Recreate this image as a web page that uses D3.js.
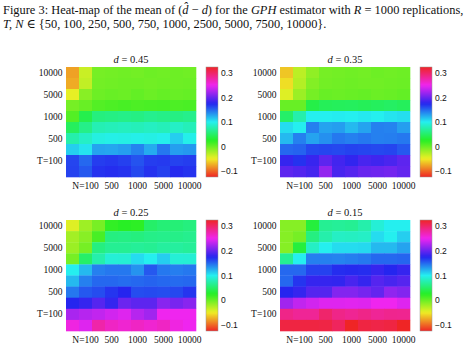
<!DOCTYPE html>
<html>
<head>
<meta charset="utf-8">
<script src="https://cdn.jsdelivr.net/npm/d3@7"></script>
<style>
  body { margin: 0; background: #fff; }
  .tick text { fill: #111; }
</style>
</head>
<body>
<div id="wrapper"></div>
<script>
// rows run top to bottom (T), columns left to right (N)
const Ts = [10000, 7500, 5000, 2500, 1000, 750, 500, 250, 100, 50]
const Ns = [50, 100, 250, 500, 750, 1000, 2500, 5000, 7500, 10000]
const xTickVals = [100, 500, 1000, 5000, 10000]
const xTickLabels = ["N=100", "500", "1000", "5000", "10000"]
const yTickVals = [10000, 5000, 1000, 500, 100]
const yTickLabels = ["10000", "5000", "1000", "500", "T=100"]
const cbTicks = [-0.1, 0, 0.1, 0.2, 0.3]
const dLabels = ["0.45", "0.35", "0.25", "0.15"]

// mean of (d_hat - d)
const bias045 = [
  [-0.079, -0.036, -0.005, -0.004, -0.003, -0.004, -0.002, -0.003, -0.002, -0.003],
  [-0.075, -0.033, -0.004, -0.003, -0.002, -0.002, -0.003, -0.002, -0.002, -0.001],
  [-0.047, -0.012, -0.002, 0.000, -0.001, 0.002, -0.001, 0.001, 0.000, 0.001],
  [-0.005, 0.000, 0.008, 0.010, 0.012, 0.010, 0.011, 0.012, 0.010, 0.011],
  [0.008, 0.040, 0.058, 0.060, 0.062, 0.060, 0.064, 0.062, 0.060, 0.063],
  [0.046, 0.062, 0.078, 0.080, 0.082, 0.080, 0.083, 0.080, 0.085, 0.080],
  [0.075, 0.085, 0.095, 0.097, 0.096, 0.098, 0.096, 0.099, 0.112, 0.098],
  [0.112, 0.104, 0.128, 0.127, 0.130, 0.140, 0.125, 0.144, 0.130, 0.132],
  [0.163, 0.150, 0.166, 0.168, 0.165, 0.158, 0.166, 0.167, 0.164, 0.166],
  [0.164, 0.156, 0.170, 0.172, 0.170, 0.162, 0.170, 0.165, 0.173, 0.170]
]
const bias035 = [
  [-0.065, -0.031, -0.015, -0.005, -0.004, -0.003, -0.004, -0.002, -0.003, -0.002],
  [-0.056, -0.028, -0.010, -0.004, -0.003, -0.002, -0.003, -0.003, -0.002, -0.001],
  [-0.044, -0.019, -0.005, 0.000, -0.001, 0.000, 0.001, -0.001, 0.000, 0.002],
  [0.000, 0.000, 0.038, 0.044, 0.045, 0.046, 0.044, 0.046, 0.048, 0.045],
  [0.050, 0.075, 0.100, 0.100, 0.101, 0.100, 0.102, 0.100, 0.104, 0.106],
  [0.107, 0.100, 0.141, 0.128, 0.130, 0.120, 0.128, 0.141, 0.140, 0.130],
  [0.120, 0.141, 0.128, 0.135, 0.144, 0.141, 0.144, 0.141, 0.142, 0.144],
  [0.150, 0.152, 0.162, 0.163, 0.162, 0.164, 0.163, 0.162, 0.163, 0.156],
  [0.181, 0.170, 0.182, 0.196, 0.186, 0.180, 0.188, 0.185, 0.189, 0.196],
  [0.196, 0.192, 0.187, 0.216, 0.188, 0.193, 0.200, 0.202, 0.204, 0.198]
]
const bias025 = [
  [-0.044, -0.020, -0.006, 0.020, 0.024, 0.022, 0.050, 0.055, 0.055, 0.058],
  [-0.022, -0.012, 0.012, 0.059, 0.060, 0.058, 0.062, 0.063, 0.062, 0.064],
  [-0.019, -0.005, 0.059, 0.066, 0.066, 0.068, 0.066, 0.070, 0.070, 0.068],
  [-0.005, 0.050, 0.075, 0.091, 0.090, 0.107, 0.100, 0.112, 0.091, 0.090],
  [0.100, 0.120, 0.141, 0.144, 0.144, 0.134, 0.156, 0.144, 0.142, 0.144],
  [0.120, 0.141, 0.150, 0.150, 0.148, 0.150, 0.152, 0.150, 0.149, 0.150],
  [0.144, 0.156, 0.160, 0.169, 0.175, 0.160, 0.161, 0.160, 0.162, 0.169],
  [0.175, 0.181, 0.193, 0.181, 0.201, 0.196, 0.196, 0.212, 0.206, 0.212],
  [0.224, 0.229, 0.233, 0.239, 0.244, 0.229, 0.221, 0.250, 0.250, 0.250],
  [0.255, 0.244, 0.276, 0.266, 0.261, 0.266, 0.261, 0.266, 0.255, 0.250]
]
const bias015 = [
  [-0.011, -0.011, 0.034, 0.066, 0.068, 0.066, 0.075, 0.091, 0.100, 0.100],
  [-0.011, -0.005, 0.059, 0.075, 0.084, 0.083, 0.085, 0.107, 0.100, 0.112],
  [-0.011, 0.034, 0.084, 0.100, 0.107, 0.107, 0.108, 0.120, 0.120, 0.128],
  [0.066, 0.100, 0.141, 0.141, 0.140, 0.142, 0.144, 0.150, 0.150, 0.151],
  [0.150, 0.150, 0.164, 0.164, 0.172, 0.173, 0.172, 0.181, 0.175, 0.181],
  [0.150, 0.169, 0.181, 0.181, 0.180, 0.188, 0.181, 0.193, 0.188, 0.193],
  [0.175, 0.181, 0.193, 0.193, 0.210, 0.210, 0.205, 0.198, 0.215, 0.210],
  [0.221, 0.233, 0.239, 0.244, 0.244, 0.245, 0.244, 0.250, 0.250, 0.244],
  [0.288, 0.283, 0.283, 0.299, 0.288, 0.284, 0.288, 0.283, 0.286, 0.285],
  [0.314, 0.314, 0.314, 0.313, 0.304, 0.325, 0.314, 0.312, 0.314, 0.325]
]
const panelsData = [bias045, bias035, bias025, bias015]

const width = 474
const height = 352

const svg = d3.select("#wrapper")
  .append("svg")
  .attr("width", width)
  .attr("height", height)
  .style("display", "block")

svg.append("rect").attr("width", width).attr("height", height).attr("fill", "#fff")

// caption
const serif = "'Liberation Serif', 'DejaVu Serif', serif"
const cap1 = svg.append("text")
  .attr("x", 3).attr("y", 14)
  .style("font-family", serif).style("font-size", "12px").attr("fill", "#111")
cap1.append("tspan").text("Figure 3:  Heat-map of the mean of (")
cap1.append("tspan").style("font-style", "italic").text("d\u0302")
cap1.append("tspan").text(" \u2212 ")
cap1.append("tspan").style("font-style", "italic").text("d")
cap1.append("tspan").text(") for the ")
cap1.append("tspan").style("font-style", "italic").text("GPH")
cap1.append("tspan").text(" estimator with ")
cap1.append("tspan").style("font-style", "italic").text("R")
cap1.append("tspan").text(" = 1000 replications,")

const cap2 = svg.append("text")
  .attr("x", 3).attr("y", 28)
  .style("font-family", serif).style("font-size", "12px").attr("fill", "#111")
cap2.append("tspan").style("font-style", "italic").text("T, N")
cap2.append("tspan").text(" \u2208 {50, 100, 250, 500, 750, 1000, 2500, 5000, 7500, 10000}.")

// fit the caption to the width it takes in the figure
const capLen = cap1.node().getComputedTextLength()
const capSize = 12 * 461 / capLen
cap1.style("font-size", capSize + "px")
cap2.style("font-size", capSize + "px")

// hsv colour map, red -> yellow -> green -> cyan -> blue -> magenta -> red
const cMin = -0.125
const cMax = 0.325
const colorScale = d3.scaleSequential(t => d3.hsl(t * 360, 0.86, 0.54).toString())
  .domain([cMin, cMax])
  .clamp(true)

const defs = svg.append("defs")
const grad = defs.append("linearGradient")
  .attr("id", "cbar").attr("x1", 0).attr("y1", 1).attr("x2", 0).attr("y2", 0)
d3.range(0, 1.0001, 0.02).forEach(t => {
  grad.append("stop")
    .attr("offset", t)
    .attr("stop-color", colorScale(cMin + t * (cMax - cMin)))
})

const panels = [
  { x: 66, y: 67, h: 110 },
  { x: 280, y: 67, h: 110 },
  { x: 66, y: 220, h: 111 },
  { x: 280, y: 220, h: 111 }
]
const mapW = 130

panels.forEach((p, k) => {
  const data = panelsData[k]
  const g = svg.append("g").attr("transform", `translate(${p.x},${p.y})`)

  const xScale = d3.scaleBand().domain(Ns).range([0, mapW])
  const yScale = d3.scaleBand().domain(Ts).range([0, p.h])

  const cells = []
  Ts.forEach((t, i) => Ns.forEach((n, j) => cells.push({ t, n, v: data[i][j] })))

  g.selectAll("rect.cell")
    .data(cells)
    .join("rect")
    .attr("class", "cell")
    .attr("x", d => xScale(d.n))
    .attr("y", d => yScale(d.t))
    .attr("width", xScale.bandwidth() + 0.3)
    .attr("height", yScale.bandwidth() + 0.3)
    .attr("fill", d => colorScale(d.v))

  // title
  const title = g.append("text")
    .attr("x", mapW / 2).attr("y", -4)
    .attr("text-anchor", "middle")
    .style("font-family", serif).style("font-size", "10.5px").attr("fill", "#111")
  title.append("tspan").style("font-style", "italic").text("d")
  title.append("tspan").text(" = " + dLabels[k])

  // axes
  const xAxis = g.append("g")
    .attr("transform", `translate(0,${p.h})`)
    .call(d3.axisBottom(xScale)
      .tickValues(xTickVals)
      .tickFormat((d, i) => xTickLabels[i])
      .tickSize(0).tickPadding(5))
  const yAxis = g.append("g")
    .call(d3.axisLeft(yScale)
      .tickValues(yTickVals)
      .tickFormat((d, i) => yTickLabels[i])
      .tickSize(0).tickPadding(3.5))
  ;[xAxis, yAxis].forEach(a => {
    a.select(".domain").remove()
    a.selectAll("text").style("font-family", serif).style("font-size", "9.5px")
  })

  // colour bar
  const cb = g.append("g").attr("transform", `translate(${mapW + 10},0)`)
  cb.append("rect")
    .attr("width", 12).attr("height", p.h)
    .attr("fill", "url(#cbar)")
    .attr("stroke", "#999").attr("stroke-width", 0.5)
  const cbScale = d3.scaleLinear().domain([cMin, cMax]).range([p.h, 0])
  const cbAxis = cb.append("g")
    .attr("transform", "translate(12,0)")
    .call(d3.axisRight(cbScale)
      .tickValues(cbTicks)
      .tickFormat(d => d === 0 ? "0" : d3.format(".1f")(d))
      .tickSize(0).tickPadding(3))
  cbAxis.select(".domain").remove()
  cbAxis.selectAll("text")
    .style("font-family", "'Liberation Sans', Arial, sans-serif")
    .style("font-size", "8.5px")
})
</script>
</body>
</html>
